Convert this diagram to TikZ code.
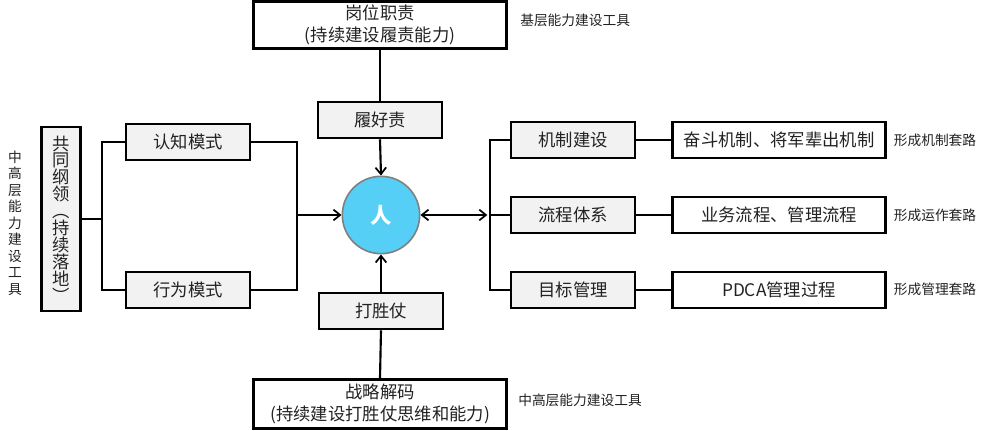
\documentclass[tikz,border=0pt]{standalone}
\usepackage{fontspec}
\setmainfont{Noto Sans CJK SC}
\usetikzlibrary{arrows.meta}
\definecolor{boxgray}{HTML}{F2F2F2}
\definecolor{renblue}{HTML}{55CFF5}
\definecolor{txt}{HTML}{222222}
\begin{document}
\begin{tikzpicture}[x=0.75pt,y=-0.75pt,
  graybox/.style={draw=black,line width=1.9pt,fill=boxgray,inner sep=0pt,
    minimum width=93pt,minimum height=27pt,font=\fontsize{13}{15}\selectfont,text=txt},
  whitebox/.style={draw=black,line width=1.9pt,fill=white,inner sep=0pt,
    minimum width=160pt,minimum height=27pt,font=\fontsize{13}{15}\selectfont,text=txt},
  bigbox/.style={draw=black,line width=1.9pt,fill=white,inner sep=0pt,align=center,
    minimum width=190pt,minimum height=35pt,font=\fontsize{13}{16.5}\selectfont,text=txt},
  note/.style={font=\fontsize{10.3}{12}\selectfont,text=txt,inner sep=0pt},
  conn/.style={line width=1.6pt,draw=black},
  arr/.style={conn,-{Straight Barb[length=5pt,width=8pt,line width=1.3pt]}},
  darr/.style={conn,{Straight Barb[length=5pt,width=8pt,line width=1.3pt]}-{Straight Barb[length=5pt,width=8pt,line width=1.3pt]}}
]
\useasboundingbox (0,0) rectangle (1000,431);

% center
\node[circle,draw={rgb,255:red,128;green,128;blue,128},line width=1.2pt,fill=renblue,
  minimum size=58pt,inner sep=0pt,text=white,font=\fontsize{16}{18}\selectfont\bfseries] (ren) at (381,215) {人};

% top / bottom
\node[bigbox] (gw) at (380,25) {岗位职责\\(持续建设履责能力)};
\node[graybox] (lh) at (380,120) {履好责};
\node[graybox] (ds) at (381,311) {打胜仗};
\node[bigbox,minimum height=37pt] (zl) at (380,404) {战略解码\\(持续建设打胜仗思维和能力)};
\node[note,anchor=west] (n1) at (520,20) {基层能力建设工具};
\node[note,anchor=west] (n2) at (518,400) {中高层能力建设工具};

% left
\node[draw=black,line width=1.9pt,fill=boxgray,inner sep=0pt,minimum width=29pt,minimum height=138pt,
  align=center,font=\fontsize{13}{12.7}\selectfont,text=txt] (gt) at (61,219)
  {共\\同\\纲\\领\\︵\\持\\续\\落\\地\\︶};
\node[align=center,inner sep=0pt,font=\fontsize{10.3}{12.4}\selectfont,text=txt] (vl) at (15,223)
  {中\\高\\层\\能\\力\\建\\设\\工\\具};
\node[graybox] (rz) at (188,142) {认知模式};
\node[graybox] (xw) at (188,290) {行为模式};

% right
\node[graybox] (jz) at (573,140) {机制建设};
\node[graybox] (lc) at (573,215) {流程体系};
\node[graybox] (mb) at (573,290) {目标管理};
\node[whitebox] (jzr) at (779,140) {奋斗机制、将军辈出机制};
\node[whitebox] (lcr) at (779,215) {业务流程、管理流程};
\node[whitebox] (mbr) at (779,290) {PDCA管理过程};
\node[note] (t1) at (935,140) {形成机制套路};
\node[note] (t2) at (935,215) {形成运作套路};
\node[note] (t3) at (935,289) {形成管理套路};

\coordinate (jl) at (102,219);
\coordinate (jr) at (297,215);
\coordinate (jb) at (490,215);

% connectors
\draw[conn] (gw.south) -- (lh.north);
\draw[arr] (lh.south) -- (ren.north);
\draw[conn] (zl.north) -- (ds.south);
\draw[arr] (ds.north) -- (ren.south);

\draw[conn] (gt.east) -- (jl);
\draw[conn] (rz.west) -| (jl) |- (xw.west);
\draw[conn] (rz.east) -| (jr) |- (xw.east);
\draw[arr] (jr) -- (ren.west);

\draw[darr] (ren.east) -- ([xshift=-2]jb);
\draw[conn] (jz.west) -| (jb) |- (mb.west);
\draw[conn] (jb) -- (lc.west);
\draw[conn] (jz.east) -- (jzr.west);
\draw[conn] (lc.east) -- (lcr.west);
\draw[conn] (mb.east) -- (mbr.west);
\end{tikzpicture}
\end{document}
